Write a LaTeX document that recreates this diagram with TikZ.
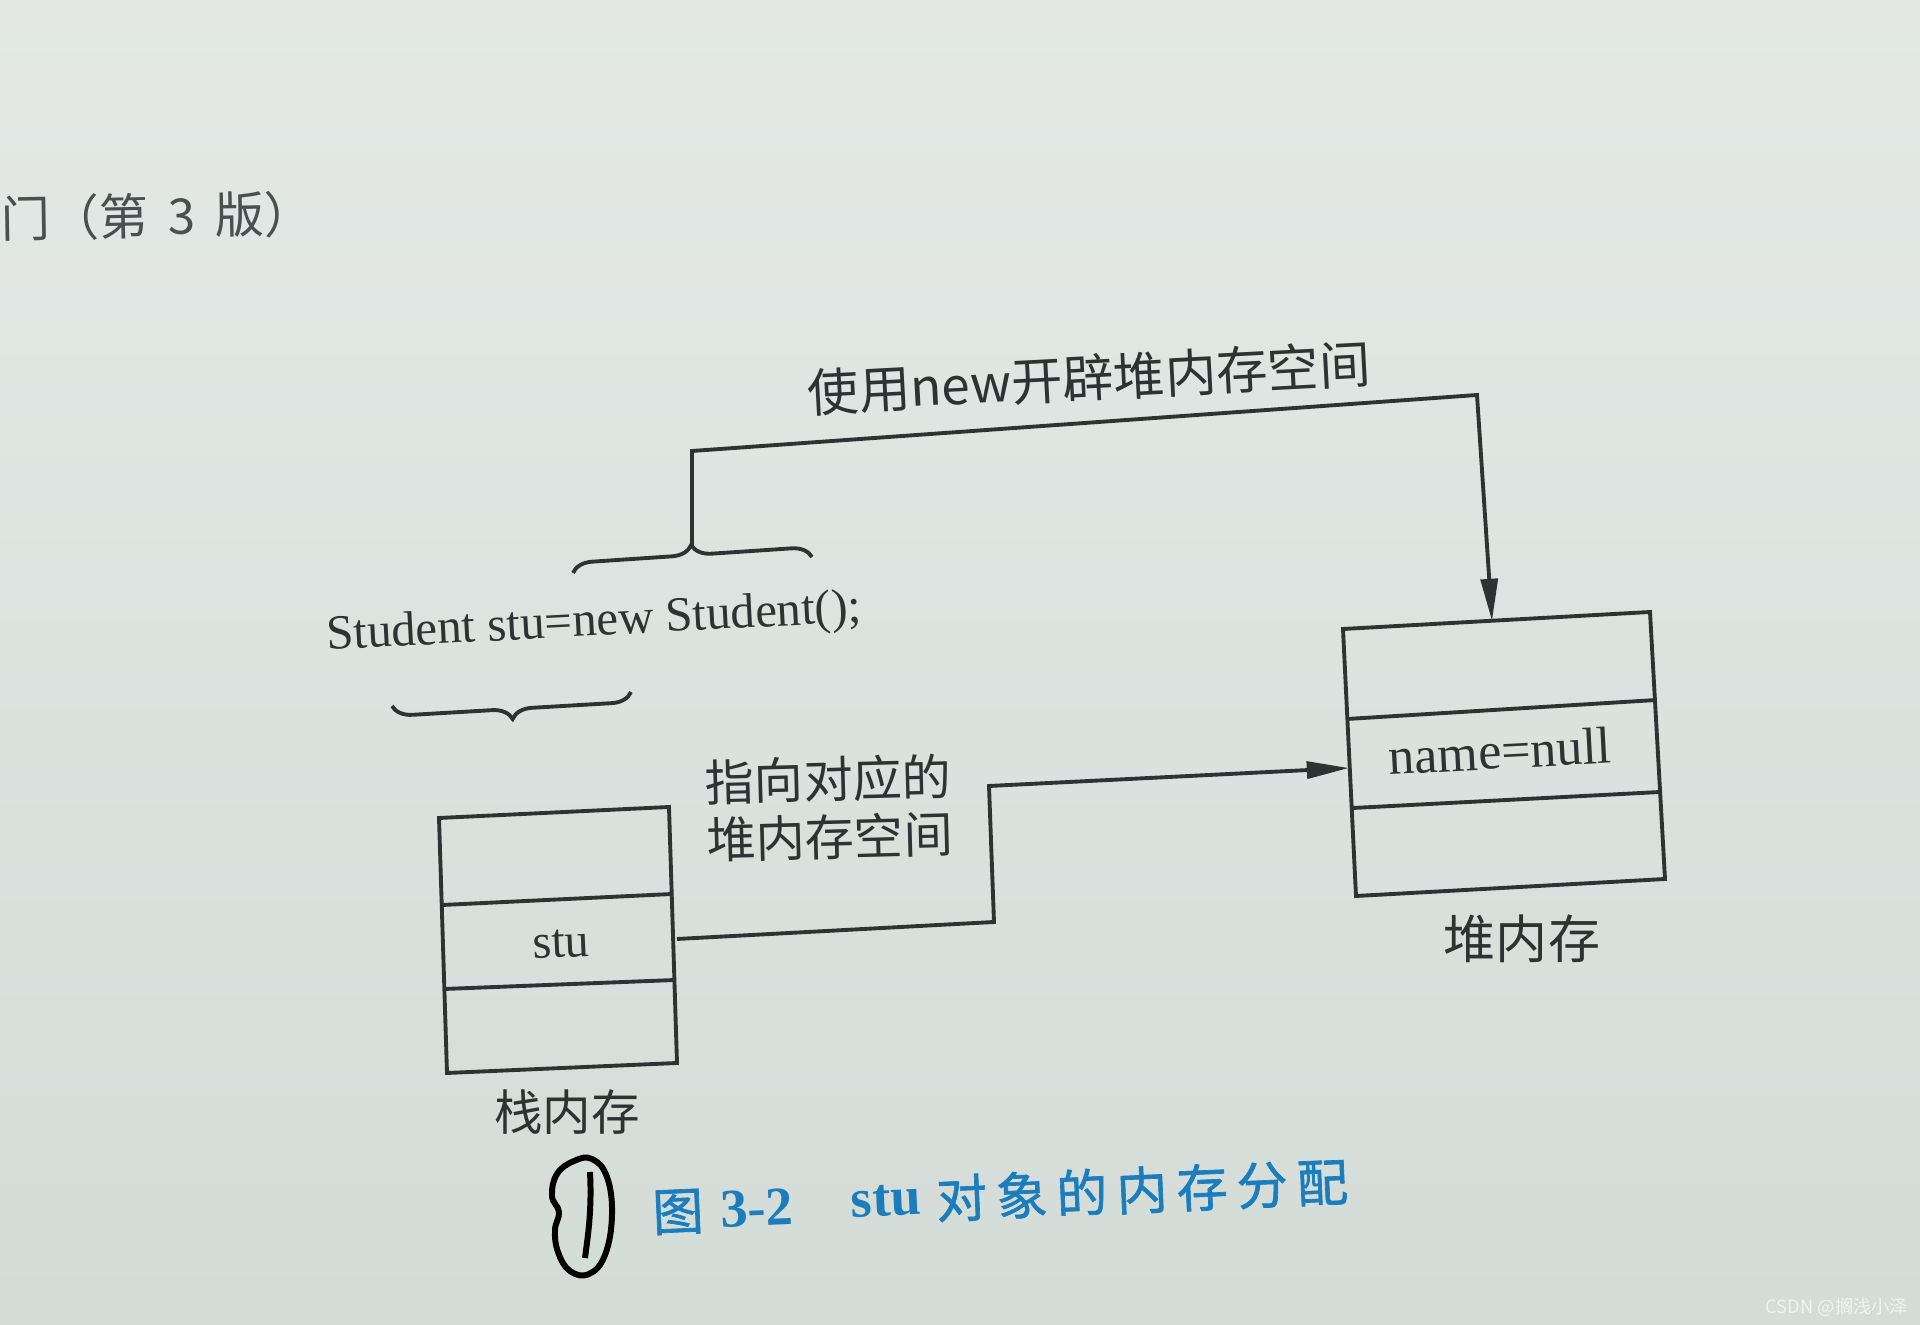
\documentclass[tikz,border=0pt]{standalone}
\usepackage{fontspec}
\setmainfont{Liberation Serif}
\newfontfamily\cjk{Noto Sans CJK SC}
\usetikzlibrary{arrows.meta,decorations.pathreplacing}
\definecolor{papertop}{RGB}{228,233,230}
\definecolor{paperbot}{RGB}{212,220,216}
\definecolor{ink}{RGB}{45,50,50}
\definecolor{hdr}{RGB}{74,80,80}
\definecolor{capblue}{RGB}{28,125,188}
\definecolor{wm}{RGB}{240,243,243}
\begin{document}
\begin{tikzpicture}[x=0.01cm,y=-0.01cm,
  ln/.style={draw=ink,line width=1.1pt,line join=miter},
  arr/.style={-{Triangle[length=12pt,width=4.8pt]}},
  bracestyle/.style={draw=ink,line width=1.1pt,decorate,decoration={brace,amplitude=0.2cm}},
  lbl/.style={text=ink,inner sep=0pt},
  capt/.style={text=capblue,inner sep=0pt}]
\shade[top color=papertop,bottom color=paperbot] (0,0) rectangle (1920,1325);
\useasboundingbox (0,0) rectangle (1920,1325);

% header
\node[text=hdr,inner sep=0pt,anchor=west,rotate=1,font=\cjk\fontsize{14}{16}\selectfont] (hdr) at (0,219)
  {门（第\hspace{0.4em}3\hspace{0.4em}版）};

% stack box
\coordinate (sTL) at (439,818);
\coordinate (sTR) at (669,807);
\coordinate (sBR) at (677,1063);
\coordinate (sBL) at (447,1073);
\coordinate (sD1L) at (442,905);
\coordinate (sD1R) at (672,894);
\coordinate (sD2L) at (444,989);
\coordinate (sD2R) at (675,980);
\draw[ln] (sTL) -- (sTR) -- (sBR) -- (sBL) -- cycle;
\draw[ln] (sD1L) -- (sD1R);
\draw[ln] (sD2L) -- (sD2R);
\node[lbl,rotate=2.5,font=\fontsize{13.8}{16}\selectfont] (stu) at (561,944) {stu};
\node[lbl,font=\cjk\fontsize{13.8}{16}\selectfont] (stack) at (567,1112) {栈内存};

% heap box
\coordinate (hTL) at (1343,629);
\coordinate (hTR) at (1650,612);
\coordinate (hBR) at (1665,879);
\coordinate (hBL) at (1356,896);
\coordinate (hD1L) at (1347,719);
\coordinate (hD1R) at (1656,700);
\coordinate (hD2L) at (1353,808);
\coordinate (hD2R) at (1660,792);
\draw[ln] (hTL) -- (hTR) -- (hBR) -- (hBL) -- cycle;
\draw[ln] (hD1L) -- (hD1R);
\draw[ln] (hD2L) -- (hD2R);
\node[lbl,rotate=3,font=\fontsize{14.8}{17}\selectfont] (namenull) at (1500,751) {name=null};
\node[lbl,font=\cjk\fontsize{14.8}{17}\selectfont] (heap) at (1522,939) {堆内存};

% code line and braces
\node[lbl,rotate=3,font=\fontsize{13.9}{16}\selectfont] (code) at (594,624) {Student stu=new Student();};
\coordinate (tbL) at (573,573);
\coordinate (tbR) at (812,557);
\draw[bracestyle] (tbL) -- (tbR);
\coordinate (tbTip) at (692,546);
\coordinate (bbL) at (392,706);
\coordinate (bbR) at (631,692);
\draw[bracestyle] (bbR) -- (bbL);

% top connector
\coordinate (tc1) at (692,451);
\coordinate (tc2) at (1477,395);
\coordinate (hIn1) at (1492,621);
\draw[ln,arr] (tbTip) -- (tc1) -- (tc2) -- (hIn1);
\node[lbl,rotate=3,font=\cjk\fontsize{14.6}{17}\selectfont] (newlbl) at (1089,378) {使用new开辟堆内存空间};

% stack-to-heap connector
\coordinate (sOut) at (677,939);
\coordinate (bc1) at (994,922);
\coordinate (bc2) at (989,786);
\coordinate (hIn2) at (1349,768);
\draw[ln,arr] (sOut) -- (bc1) -- (bc2) -- (hIn2);
\node[lbl,rotate=1.5,align=left,font=\cjk\fontsize{14}{16.4}\selectfont] (ptr) at (829,808)
  {指向对应的\\堆内存空间};

% hand-drawn mark
\draw[draw=black,line width=1.7pt] plot[smooth cycle,tension=0.7] coordinates
  {(592,1159) (607,1177) (612,1215) (605,1255) (589,1274) (570,1271) (558,1252) (555,1230) (559,1212) (552,1196) (557,1174) (574,1161)};
\draw[draw=black,line width=1.7pt] (590,1172) .. controls (592,1210) and (588,1235) .. (585,1258);

% caption
\node[capt,rotate=2.5,font=\cjk\fontsize{14.5}{17}\selectfont\addfontfeatures{FakeBold=1.3}] (fig) at (678,1212) {图};
\node[capt,rotate=2.5,font=\bfseries\fontsize{15.5}{18}\selectfont] (fignum) at (757,1208) {3-2};
\node[capt,rotate=2.5,font=\bfseries\fontsize{15.5}{18}\selectfont] (capstu) at (886,1201) {stu};
\node[capt,rotate=2.5,font=\cjk\fontsize{14.5}{17}\selectfont\addfontfeatures{LetterSpace=18,FakeBold=1.3}] (captxt) at (1142,1190) {对象的内存分配};

% watermark
\node[text=wm,inner sep=0pt,font=\cjk\fontsize{5.2}{6}\selectfont] (wmk) at (1837,1307) {CSDN @搁浅小泽};
\end{tikzpicture}
\end{document}
